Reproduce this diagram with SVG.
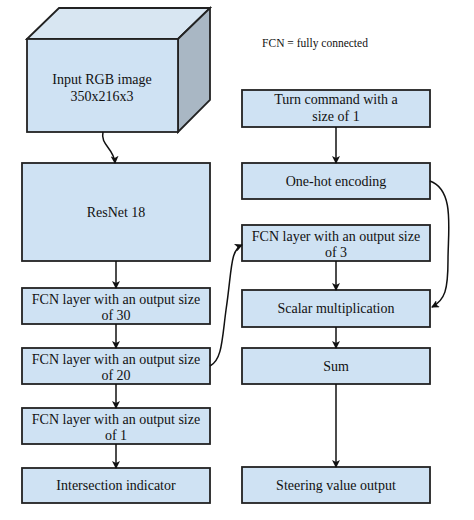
<svg xmlns="http://www.w3.org/2000/svg" width="474" height="520" viewBox="0 0 474 520">
<defs>
<style>
.box{fill:#cfe2f3;stroke:#222;stroke-width:1.8}
.t{font-size:14px;fill:#111;text-anchor:middle}
.c{fill:none;stroke:#111;stroke-width:1.5}
</style>
<marker id="ah" markerWidth="8" markerHeight="8" refX="7" refY="4" orient="auto" markerUnits="userSpaceOnUse">
<path d="M0,0 L8,4 L0,8 L2,4 Z" fill="#111"/>
</marker>
</defs>
<rect width="474" height="520" fill="#fff"/>
<g font-family="Liberation Serif, Times New Roman, serif">
<text class="t" x="315" y="47" style="font-size:11.5px">FCN = fully connected</text>
<g id="input">
<polygon points="27,39 59,8 210,8 178,39" fill="#d8e6f2" stroke="#222" stroke-width="1.8"/>
<polygon points="178,39 210,8 210,100 178,132" fill="#a9b7c4" stroke="#222" stroke-width="1.8"/>
<rect class="box" x="27" y="39" width="151" height="93"/>
<text class="t" x="102" y="84">Input RGB image</text>
<text class="t" x="102" y="101">350x216x3</text>
</g>
<g id="resnet">
<rect class="box" x="22" y="163" width="188" height="98"/>
<text class="t" x="116" y="217">ResNet 18</text>
</g>
<g id="fcn30">
<rect class="box" x="22" y="288" width="188" height="36"/>
<text class="t" x="116" y="304">FCN layer with an output size</text>
<text class="t" x="116" y="320">of 30</text>
</g>
<g id="fcn20">
<rect class="box" x="22" y="348" width="188" height="36"/>
<text class="t" x="116" y="364">FCN layer with an output size</text>
<text class="t" x="116" y="380">of 20</text>
</g>
<g id="fcn1">
<rect class="box" x="22" y="408" width="188" height="36"/>
<text class="t" x="116" y="424">FCN layer with an output size</text>
<text class="t" x="116" y="440">of 1</text>
</g>
<g id="intersection">
<rect class="box" x="22" y="468" width="188" height="35"/>
<text class="t" x="116" y="490">Intersection indicator</text>
</g>
<g id="turn">
<rect class="box" x="242" y="90" width="188" height="37"/>
<text class="t" x="336" y="104">Turn command with a</text>
<text class="t" x="336" y="121">size of 1</text>
</g>
<g id="onehot">
<rect class="box" x="242" y="163" width="188" height="36"/>
<text class="t" x="336" y="186">One-hot encoding</text>
</g>
<g id="fcn3">
<rect class="box" x="242" y="225" width="188" height="36"/>
<text class="t" x="336" y="241">FCN layer with an output size</text>
<text class="t" x="336" y="257">of 3</text>
</g>
<g id="scalar">
<rect class="box" x="242" y="290" width="188" height="37"/>
<text class="t" x="336" y="313">Scalar multiplication</text>
</g>
<g id="sum">
<rect class="box" x="242" y="348" width="188" height="36"/>
<text class="t" x="336" y="371">Sum</text>
</g>
<g id="steering">
<rect class="box" x="242" y="467" width="188" height="36"/>
<text class="t" x="336" y="490">Steering value output</text>
</g>
</g>
<g id="connectors">
<path class="c" d="M103,132 C100,145 114,148 115,163" marker-end="url(#ah)"/>
<path class="c" d="M116,261 V288" marker-end="url(#ah)"/>
<path class="c" d="M116,324 V348" marker-end="url(#ah)"/>
<path class="c" d="M116,384 V408" marker-end="url(#ah)"/>
<path class="c" d="M116,444 V468" marker-end="url(#ah)"/>
<path class="c" d="M336,127 V163" marker-end="url(#ah)"/>
<path class="c" d="M336,261 V290" marker-end="url(#ah)"/>
<path class="c" d="M336,327 V348" marker-end="url(#ah)"/>
<path class="c" d="M336,384 V467" marker-end="url(#ah)"/>
<path class="c" d="M210,366 C222,360 222,340 226,310 C232,270 230,250 242,245" marker-end="url(#ah)"/>
<path class="c" d="M430,181 C455,190 448,230 448,260 C448,290 445,300 432,307" marker-end="url(#ah)"/>
</g>
</svg>
